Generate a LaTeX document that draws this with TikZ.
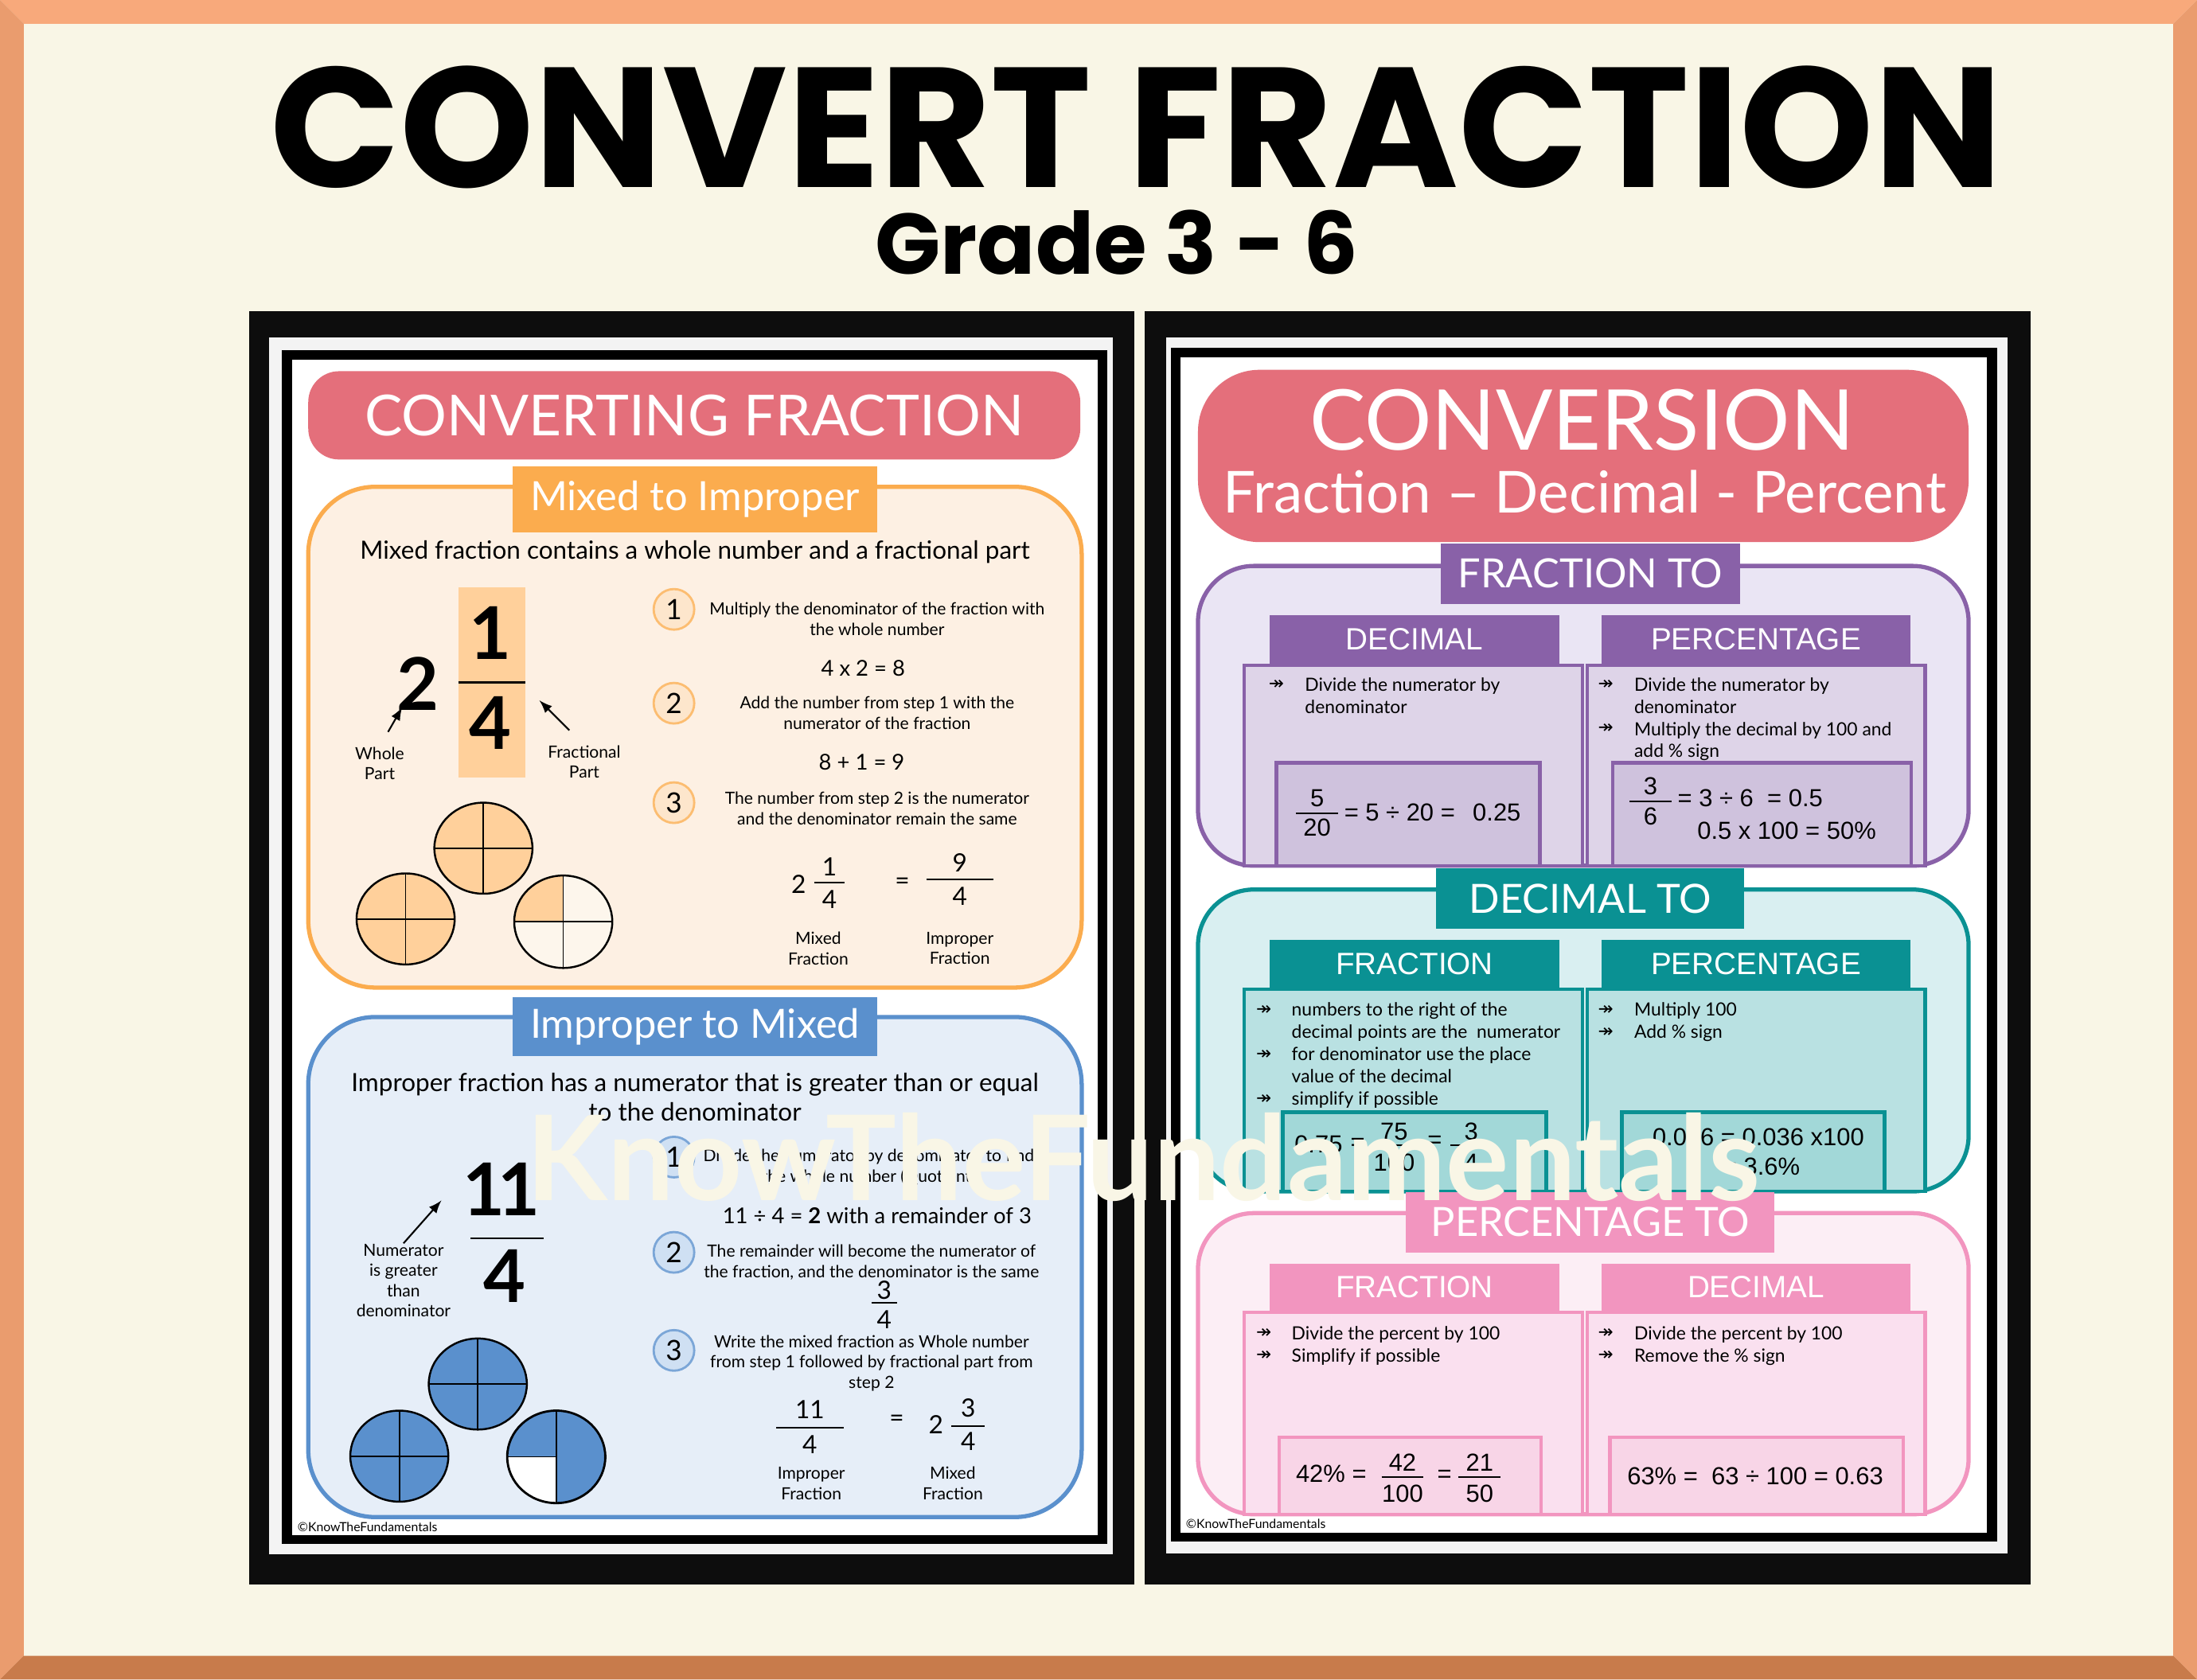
\documentclass[tikz,border=0pt]{standalone}
\usepackage{fontspec}
\usepackage{tikz}
\setmainfont{Lato}
\newfontfamily\posterfont{Poppins}
\newfontfamily\plainfont{Liberation Sans}
\newfontfamily\arrowfont{DejaVu Sans}
\definecolor{frame-top}{HTML}{F8A97B}
\definecolor{frame-side}{HTML}{EA9C6E}
\definecolor{frame-bottom}{HTML}{C87B4B}
\definecolor{background-cream}{HTML}{F9F6E6}
\definecolor{mat-gray}{HTML}{F3F3F3}
\definecolor{banner-red}{HTML}{E46F7B}
\definecolor{orange-line}{HTML}{FBAC4E}
\definecolor{orange-panel}{HTML}{FDF0E3}
\definecolor{orange-fill}{HTML}{FFD09B}
\definecolor{orange-dot}{HTML}{FDE6CC}
\definecolor{orange-light}{HTML}{FDF6EC}
\definecolor{blue-line}{HTML}{5A90CD}
\definecolor{blue-panel}{HTML}{E6EEF8}
\definecolor{blue-dot}{HTML}{CFE0F3}
\definecolor{purple-line}{HTML}{8961A8}
\definecolor{purple-panel}{HTML}{EAE5F4}
\definecolor{purple-box}{HTML}{DED4E8}
\definecolor{purple-inner}{HTML}{CFC2DD}
\definecolor{teal-line}{HTML}{0A9193}
\definecolor{teal-panel}{HTML}{D9EFF1}
\definecolor{teal-box}{HTML}{B9E1E2}
\definecolor{teal-inner}{HTML}{A2D8D8}
\definecolor{pink-line}{HTML}{F295BF}
\definecolor{pink-panel}{HTML}{FCEEF5}
\definecolor{pink-box}{HTML}{FAE0EF}
\definecolor{pink-inner}{HTML}{F8D5E7}
\tikzset{
   banner/.style={rounded corners=11pt},
   panel/.style={line width=1.5pt,rounded corners=24pt},
   tabtext/.style={text=white,inner sep=0pt,font=\fontsize{14.4}{18}\selectfont},
   headtext/.style={text=white,inner sep=0pt,font=\plainfont\fontsize{11}{14}\selectfont},
   introtext/.style={inner sep=0pt,align=center,font=\fontsize{8.95}{10.5}\selectfont},
   steptext/.style={inner sep=0pt,align=center,font=\fontsize{6}{7.25}\selectfont},
   looptext/.style={inner sep=0pt,align=left,anchor=north west,font=\fontsize{6.5}{7.9}\selectfont},
   marktext/.style={inner sep=0pt,font=\arrowfont\fontsize{6.5}{7}\selectfont},
   sumtext/.style={inner sep=0pt,font=\fontsize{7.8}{9}\selectfont},
   mathtext/.style={inner sep=0pt,font=\fontsize{9}{10}\selectfont},
   bigdigit/.style={inner sep=0pt,font=\bfseries\fontsize{26}{28}\selectfont},
   stepdot/.style={circle,draw,line width=0.8pt,minimum size=14.5pt,inner sep=0pt,font=\fontsize{10}{11}\selectfont},
   fracbar/.style={line width=0.6pt},
   pointer/.style={-latex,line width=0.6pt},
   boxline/.style={line width=1.2pt},
   stamp/.style={inner sep=0pt,anchor=west,font=\fontsize{4.5}{5}\selectfont}
}
\newcommand{\numberfrac}[8]{
   \node[mathtext] (#1num) at (#2,#3) {#7};
   \node[mathtext] (#1den) at (#2,#5) {#8};
   \draw[fracbar] (#2-#6,#4) -- (#2+#6,#4);
}
\newcommand{\piefull}[4]{
   \begin{scope}[shift={(#2,#3)}]
      \draw[line width=0.7pt,fill=#4] (0,0) ellipse [x radius=35,y radius=32.5];
      \draw[line width=0.5pt] (-35,0) -- (35,0);
      \draw[line width=0.5pt] (0,-32.5) -- (0,32.5);
   \end{scope}
}
\begin{document}
\begin{tikzpicture}[x=0.0176cm,y=-0.0176cm]
   \useasboundingbox (0,0) rectangle (1568,1199);
   \fill[background-cream] (0,0) rectangle (1568,1199);
   \fill[frame-top] (0,0) -- (1568,0) -- (1551,17) -- (17,17) -- cycle;
   \fill[frame-side] (0,0) -- (17,17) -- (17,1182) -- (0,1199) -- cycle;
   \fill[frame-side] (1568,0) -- (1551,17) -- (1551,1182) -- (1568,1199) -- cycle;
   \fill[frame-bottom] (0,1199) -- (17,1182) -- (1551,1182) -- (1568,1199) -- cycle;

   \node[inner sep=0pt,font=\posterfont\bfseries\fontsize{61}{70}\selectfont] (maintitle) at (811,91) {CONVERT FRACTION};
   \node[inner sep=0pt,font=\posterfont\bfseries\fontsize{30.7}{36}\selectfont] (gradetitle) at (797,173) {Grade 3 - 6};

   \fill[black!95] (178,222) rectangle (809.5,1131);
   \fill[mat-gray] (192,241) rectangle (794,1109.5);
   \fill[black] (201,250) rectangle (790.5,1102);
   \fill[white] (208.5,257) rectangle (783.5,1096);

   \fill[banner-red,banner] (220,265) rectangle node[text=white,inner sep=0pt,font=\fontsize{20.2}{24}\selectfont] (convertingtitle) {CONVERTING FRACTION} (771,328);

   \draw[panel,orange-line,fill=orange-panel] (220,347.5) rectangle (772,705);
   \fill[orange-line] (366,333) rectangle node[tabtext] (mixedtab) {Mixed to Improper} (626,380);
   \node[introtext] (mixedintro) at (496,394) {Mixed fraction contains a whole number and a fractional part};
   \fill[orange-fill] (327,419) rectangle (375,555);
   \node[bigdigit] (mixedtwo) at (298,488) {2};
   \node[bigdigit] (mixedone) at (350,452) {1};
   \node[bigdigit] (mixedfour) at (350,516) {4};
   \draw[line width=0.8pt] (327,487) -- (375,487);
   \node[steptext] (wholepart) at (271,545) {Whole\\Part};
   \node[steptext] (fractionalpart) at (417,544) {Fractional\\Part};
   \coordinate (wholetip) at (287,505);
   \coordinate (fractionaltip) at (385,500);
   \draw[pointer,shorten <=6pt] (wholepart.north) -- (wholetip);
   \draw[pointer,shorten <=7.5pt] (fractionalpart.north) -- (fractionaltip);

   \piefull{mixedpiea}{345}{605.5}{orange-fill}
   \piefull{mixedpieb}{289.5}{656}{orange-fill}
   \begin{scope}[shift={(402,658)}]
      \fill[orange-light] (0,0) ellipse [x radius=35,y radius=33];
      \fill[orange-fill] (0,0) -- (-35,0) arc [start angle=180,end angle=270,x radius=35,y radius=33] -- cycle;
      \draw[line width=0.7pt] (0,0) ellipse [x radius=35,y radius=33];
      \draw[line width=0.5pt] (-35,0) -- (35,0);
      \draw[line width=0.5pt] (0,-33) -- (0,33);
   \end{scope}

   \node[stepdot,draw=orange-line!80,fill=orange-dot] (mixeddota) at (481,435) {1};
   \node[stepdot,draw=orange-line!80,fill=orange-dot] (mixeddotb) at (481,502) {2};
   \node[stepdot,draw=orange-line!80,fill=orange-dot] (mixeddotc) at (481,573) {3};
   \node[steptext] (mixedstepa) at (626,442) {Multiply the denominator of the fraction with\\the whole number};
   \node[sumtext] (mixedsuma) at (616,477) {4 x 2 = 8};
   \node[steptext] (mixedstepb) at (626,509) {Add the number from step 1 with the\\numerator of the fraction};
   \node[sumtext] (mixedsumb) at (615,544) {8 + 1 = 9};
   \node[steptext] (mixedstepc) at (626,577) {The number from step 2 is the numerator\\and the denominator remain the same};
   \node[mathtext] (mixedwhole) at (570,631) {2};
   \numberfrac{mixedfrac}{592}{619}{630}{642}{11}{1}{4}
   \node[mathtext] (mixedequals) at (644,631) {=};
   \numberfrac{improperfrac}{685}{616}{628}{640}{24}{9}{4}
   \node[steptext] (mixedname) at (584,677) {Mixed\\Fraction};
   \node[steptext] (impropername) at (685,677) {Improper\\Fraction};

   \draw[panel,blue-line,fill=blue-panel] (220,726) rectangle (772,1083);
   \fill[blue-line] (366,712) rectangle node[tabtext] (impropertab) {Improper to Mixed} (626,754);
   \node[introtext] (improperintro) at (496,783) {Improper fraction has a numerator that is greater than or equal\\to the denominator};
   \node[bigdigit] (eleven) at (358,849) {1\kern-2.5pt 1};
   \node[bigdigit] (elevenfour) at (360,911) {4};
   \draw[line width=0.8pt] (336,884) -- (388,884);
   \node[steptext] (numeratorgreater) at (288,914) {Numerator\\is greater\\than\\denominator};
   \coordinate (numeratortip) at (315,857);
   \draw[pointer] (numeratorgreater.north) -- (numeratortip);

   \piefull{improperpiea}{341}{988}{blue-line}
   \piefull{improperpieb}{285}{1039.5}{blue-line}
   \begin{scope}[shift={(397,1040)}]
      \fill[blue-line] (0,0) ellipse [x radius=35,y radius=33];
      \fill[white] (0,0) -- (-35,0) arc [start angle=180,end angle=90,x radius=35,y radius=33] -- cycle;
      \draw[line width=0.8pt] (0,0) ellipse [x radius=35,y radius=33];
      \draw[line width=0.5pt] (-35,0) -- (0,0) -- (0,-33);
      \draw[line width=0.5pt] (0,0) -- (0,33);
   \end{scope}

   \node[stepdot,draw=blue-line!80,fill=blue-dot] (improperdota) at (481,826) {1};
   \node[stepdot,draw=blue-line!80,fill=blue-dot] (improperdotb) at (481,894) {2};
   \node[stepdot,draw=blue-line!80,fill=blue-dot] (improperdotc) at (481,964) {3};
   \node[steptext] (improperstepa) at (620,833) {Divide the numerator by denominator to find\\the whole number (Quotient)};
   \node[sumtext] (impropersuma) at (626,868) {11 ÷ 4 = \textbf{2} with a remainder of 3};
   \node[steptext] (improperstepb) at (622,901) {The remainder will become the numerator of\\the fraction, and the denominator is the same};
   \numberfrac{remainderfrac}{631}{921}{930}{942}{9}{3}{4}
   \node[steptext] (improperstepc) at (622,973) {Write the mixed fraction as Whole number\\from step 1 followed by fractional part from\\step 2};
   \numberfrac{elevenfrac}{578}{1006}{1019}{1031}{24}{11}{4}
   \node[mathtext] (improperequals) at (640,1014) {=};
   \node[mathtext] (improperwhole) at (668,1017) {2};
   \numberfrac{threefrac}{691}{1005}{1018}{1029}{12}{3}{4}
   \node[steptext] (impropername) at (579,1059) {Improper\\Fraction};
   \node[steptext] (mixedname) at (680,1059) {Mixed\\Fraction};
   \node[stamp] (leftstamp) at (212,1090) {©KnowTheFundamentals};

   \fill[black!95] (817,222) rectangle (1449.5,1131);
   \fill[mat-gray] (832,241) rectangle (1432.5,1109);
   \fill[black] (835.5,248.5) rectangle (1425.5,1100.5);
   \fill[white] (842.5,255) rectangle (1418,1094);

   \fill[banner-red,rounded corners=22pt] (855,264) rectangle (1405,387);
   \node[text=white,inner sep=0pt,font=\fontsize{30}{34}\selectfont] (conversiontitle) at (1129,300) {CONVERSION};
   \node[text=white,inner sep=0pt,font=\fontsize{20.7}{24}\selectfont] (conversionsub) at (1131,351) {Fraction – Decimal - Percent};

   \begin{scope}[mathtext/.style={inner sep=0pt,font=\plainfont\fontsize{8.8}{10}\selectfont}]
   \draw[panel,rounded corners=20pt,purple-line,fill=purple-panel] (855,404) rectangle (1405,618);
   \fill[purple-line] (1028,388) rectangle node[tabtext] (fractiontab) {FRACTION TO} (1242,431);
   \fill[purple-line] (906,439) rectangle node[headtext] (fractiondecimal) {DECIMAL} (1113,474);
   \fill[purple-line] (1143,439) rectangle node[headtext] (fractionpercent) {PERCENTAGE} (1363.5,474);
   \draw[boxline,purple-line,fill=purple-box] (888,475) rectangle (1129.5,618);
   \draw[boxline,purple-line,fill=purple-box] (1133,475) rectangle (1374,618);
   \draw[boxline,purple-line,fill=purple-inner] (911,544.5) rectangle (1099,618);
   \draw[boxline,purple-line,fill=purple-inner] (1151,544.5) rectangle (1364,618);
   \node[marktext] (fractionmarka) at (911,489) {↠};
   \node[looptext] (fractionlista) at (931,483.5) {Divide the numerator by\\denominator};
   \node[marktext] (fractionmarkb) at (1146,489) {↠};
   \node[marktext] (fractionmarkc) at (1146,520) {↠};
   \node[looptext] (fractionlistb) at (1166,483.5) {Divide the numerator by\\denominator\\Multiply the decimal by 100 and\\add \% sign};
   \numberfrac{fivefrac}{940}{570}{580.5}{591}{15}{5}{20}
   \node[mathtext,anchor=west] (fivesum) at (959,580) {= 5 ÷ 20 =\ \ \,0.25};
   \numberfrac{threesixfrac}{1178}{561}{572}{583}{15}{3}{6}
   \node[mathtext,anchor=west] (threesum) at (1197,570) {= 3 ÷ 6\ \ = 0.5};
   \node[mathtext,anchor=west] (percentsum) at (1211,593) {0.5 x 100 = 50\%};

   \draw[panel,rounded corners=20pt,teal-line,fill=teal-panel] (855,635) rectangle (1405,850.5);
   \fill[teal-line] (1025,620) rectangle node[tabtext] (decimaltab) {DECIMAL TO} (1245,663);
   \fill[teal-line] (906,671) rectangle node[headtext] (decimalfraction) {FRACTION} (1113,705);
   \fill[teal-line] (1143,671) rectangle node[headtext] (decimalpercent) {PERCENTAGE} (1363.5,705);
   \draw[boxline,teal-line,fill=teal-box] (888,706) rectangle (1129.5,850.5);
   \draw[boxline,teal-line,fill=teal-box] (1133,706) rectangle (1374,850.5);
   \draw[boxline,teal-line,fill=teal-inner] (915.5,794) rectangle (1103.5,850.5);
   \draw[boxline,teal-line,fill=teal-inner] (1157.5,794) rectangle (1345,850.5);
   \node[marktext] (decimalmarka) at (902,721) {↠};
   \node[marktext] (decimalmarkb) at (902,753) {↠};
   \node[marktext] (decimalmarkc) at (902,785) {↠};
   \node[looptext] (decimallista) at (921.5,715.5) {numbers to the right of the\\decimal points are the\ \ numerator\\for denominator use the place\\value of the decimal\\simplify if possible};
   \node[marktext] (decimalmarkd) at (1146,721) {↠};
   \node[marktext] (decimalmarke) at (1146,737) {↠};
   \node[looptext] (decimallistb) at (1166,715.5) {Multiply 100\\Add \% sign};
   \node[mathtext] (decimalvalue) at (941,817) {0.75};
   \node[mathtext] (decimalequalsa) at (969,817) {=};
   \numberfrac{seventyfrac}{995}{808}{817.5}{830}{15}{75}{100}
   \node[mathtext] (decimalequalsb) at (1024,815) {=};
   \numberfrac{quarterfrac}{1050}{808}{817.5}{830}{15}{3}{4}
   \node[mathtext,anchor=west] (decimalsum) at (1179,812) {0.036 = 0.036 x100};
   \node[mathtext,anchor=east] (decimalresult) at (1285,833) {= 3.6\%};

   \draw[panel,rounded corners=20pt,pink-line,fill=pink-panel] (855,866) rectangle (1405,1081);
   \fill[pink-line] (1003.5,851) rectangle node[tabtext] (percenttab) {PERCENTAGE TO} (1266.5,894);
   \fill[pink-line] (906,902) rectangle node[headtext] (percentfraction) {FRACTION} (1113,936);
   \fill[pink-line] (1143,902) rectangle node[headtext] (percentdecimal) {DECIMAL} (1363.5,936);
   \draw[boxline,pink-line,fill=pink-box] (888,937) rectangle (1129.5,1081);
   \draw[boxline,pink-line,fill=pink-box] (1133,937) rectangle (1374,1081);
   \draw[boxline,pink-line,fill=pink-inner] (913,1026) rectangle (1100,1081);
   \draw[boxline,pink-line,fill=pink-inner] (1149,1026) rectangle (1358.5,1081);
   \node[marktext] (percentmarka) at (902,952) {↠};
   \node[marktext] (percentmarkb) at (902,967.5) {↠};
   \node[looptext] (percentlista) at (921.5,946.5) {Divide the percent by 100\\Simplify if possible};
   \node[marktext] (percentmarkc) at (1146,952) {↠};
   \node[marktext] (percentmarkd) at (1146,967.5) {↠};
   \node[looptext] (percentlistb) at (1166,946.5) {Divide the percent by 100\\Remove the \% sign};
   \node[mathtext,anchor=west] (percentvalue) at (924.5,1052) {42\% =};
   \numberfrac{fortyfrac}{1001}{1044}{1054.5}{1066}{15}{42}{100}
   \node[mathtext] (percentequals) at (1031,1054) {=};
   \numberfrac{twentyfrac}{1056}{1044}{1054.5}{1066}{15}{21}{50}
   \node[mathtext,anchor=west] (percentsum) at (1161,1053.5) {63\% =\ \ 63 ÷ 100 = 0.63};
   \end{scope}
   \node[stamp] (rightstamp) at (846,1088) {©KnowTheFundamentals};

   \node[inner sep=0pt,text=background-cream,font=\bfseries\fontsize{42.2}{50}\selectfont] (watermark) at (816,826) {KnowTheFundamentals};
\end{tikzpicture}
\end{document}
